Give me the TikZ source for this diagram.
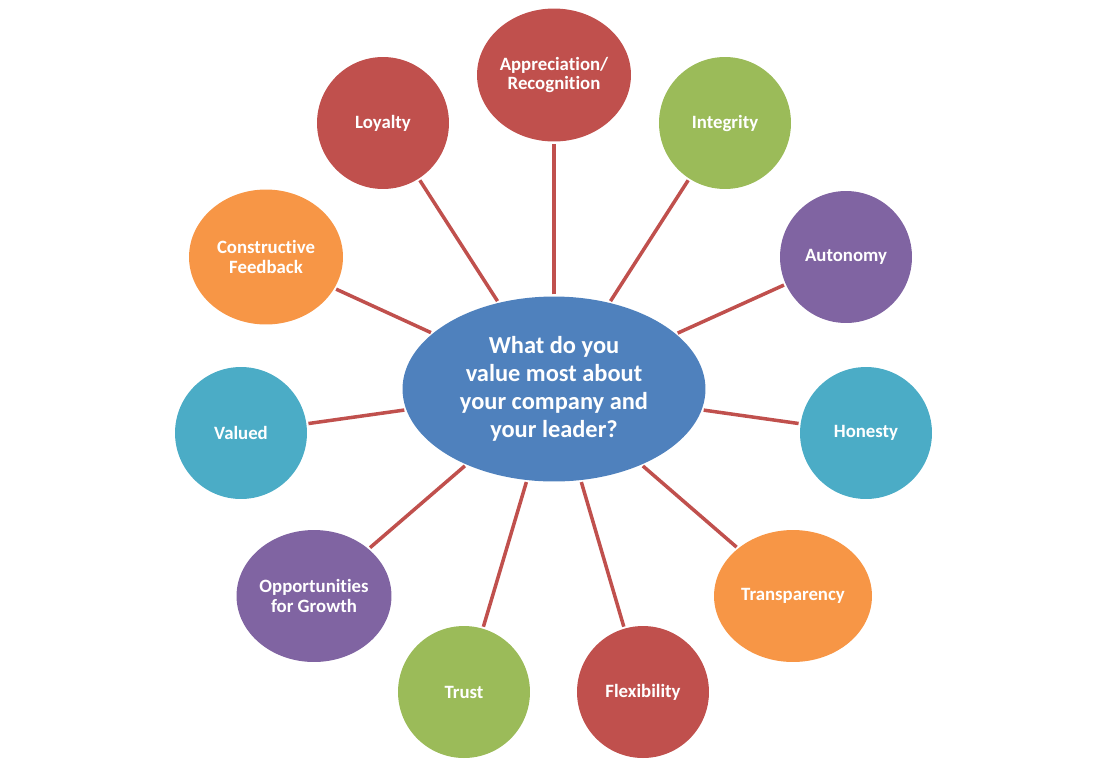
\documentclass[tikz,border=0pt]{standalone}
\usepackage{fontspec}
\setmainfont{Carlito}[Ligatures=NoCommon]
\usetikzlibrary{shapes.geometric}

\definecolor{accred}{HTML}{C0504D}
\definecolor{accgreen}{HTML}{9BBB59}
\definecolor{accpurple}{HTML}{8064A2}
\definecolor{accaqua}{HTML}{4BACC6}
\definecolor{accorange}{HTML}{F79646}
\definecolor{accblue}{HTML}{4F81BD}

\begin{document}
\begin{tikzpicture}[x=0.02cm, y=-0.02cm]
    \tikzstyle{bubble}=[circle, minimum size=2.64cm, inner sep=0pt, text=white, align=center, font=\bfseries\fontsize{10.7}{11.3}\selectfont]
    \tikzstyle{oval}=[ellipse, minimum width=3.08cm, minimum height=2.66cm, inner sep=0pt, text=white, align=center, font=\bfseries\fontsize{10.7}{11.3}\selectfont]
    \tikzstyle{spoke}=[draw=accred, line width=2pt, shorten <=1pt, shorten >=1pt]

    \useasboundingbox (0, 0) rectangle (1109, 765);

    % Central question
    \node[ellipse, fill=accblue, minimum width=6.06cm, minimum height=3.7cm, inner sep=0pt, text=white, align=center, font=\bfseries\fontsize{13.9}{15.9}\selectfont] (hub) at (554, 389) {What do you\\value most about\\your company and\\your leader?};

    % Values around it
    \node[oval, fill=accred] (appreciation) at (554, 75) {Appreciation/\\Recognition};
    \node[bubble, fill=accred] (loyalty) at (383, 123) {Loyalty};
    \node[bubble, fill=accgreen] (integrity) at (725, 123) {Integrity};
    \node[bubble, fill=accpurple] (autonomy) at (846, 257) {Autonomy};
    \node[oval, fill=accorange, minimum height=2.7cm] (feedback) at (266, 257) {Constructive\\Feedback};
    \node[bubble, fill=accaqua] (valued) at (241, 433) {Valued};
    \node[bubble, fill=accaqua] (honesty) at (866, 433) {Honesty};
    \node[oval, fill=accpurple, minimum width=3.1cm, minimum height=2.64cm] (growth) at (314, 596) {Opportunities\\for Growth};
    \node[oval, fill=accorange, minimum width=3.16cm, minimum height=2.64cm] (transparency) at (793, 596) {Transparency};
    \node[bubble, fill=accgreen] (trust) at (464, 692) {Trust};
    \node[bubble, fill=accred] (flexibility) at (643, 692) {Flexibility};

    % Spokes
    \draw[spoke] (hub) -- (appreciation);
    \draw[spoke] (hub) -- (loyalty);
    \draw[spoke] (hub) -- (integrity);
    \draw[spoke] (hub) -- (autonomy);
    \draw[spoke] (hub) -- (feedback);
    \draw[spoke] (hub) -- (valued);
    \draw[spoke] (hub) -- (honesty);
    \draw[spoke] (hub) -- (growth);
    \draw[spoke] (hub) -- (transparency);
    \draw[spoke] (hub) -- (trust);
    \draw[spoke] (hub) -- (flexibility);
\end{tikzpicture}
\end{document}
